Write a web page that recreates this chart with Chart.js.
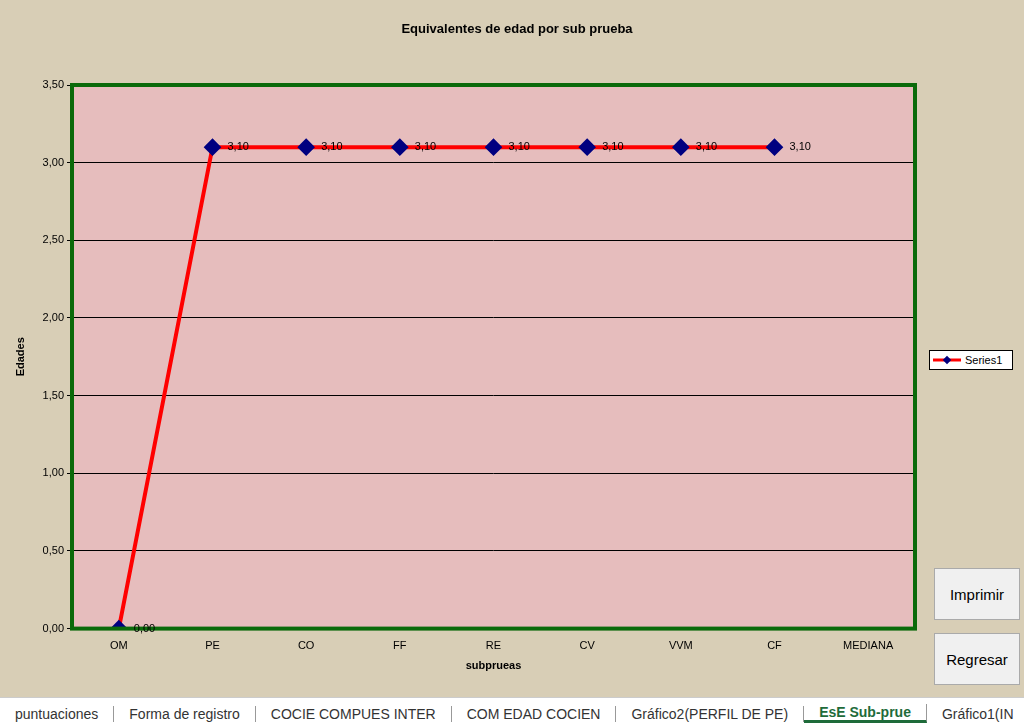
<!DOCTYPE html>
<html><head><meta charset="utf-8">
<script src="https://cdn.jsdelivr.net/npm/chart.js@4"></script>
<style>
body{margin:0;width:1024px;height:728px;background:#d8ceb6;font-family:Arial,"Liberation Sans",sans-serif;position:relative;overflow:hidden}
#wrap{position:absolute;left:0;top:0;width:1020px;height:695px}
#legend{position:absolute;left:929px;top:350px;width:84px;height:20px;background:#fff;border:1px solid #000;font-size:11px;display:flex;align-items:center;gap:4px;box-sizing:border-box;padding-left:3px}
.btn{position:absolute;left:934px;width:84px;height:50px;background:#f0f0f0;border:1px solid #aaa;font-size:15px;display:flex;align-items:center;justify-content:center}
#tabs{position:absolute;left:0;top:697px;width:1024px;height:31px;background:#fff;border-top:1px solid #ccc;font-size:14px;color:#333;display:flex;align-items:center;white-space:nowrap}
#tabs span{padding:0 15px;border-right:1px solid #999}
#tabs .act{color:#1e6b3a;font-weight:bold;border-bottom:3px solid #1e6b3a}
</style></head><body>
<div id="wrap"><canvas id="c" width="1020" height="695"></canvas></div>
<div id="legend"><svg width="28" height="10"><line x1="0" y1="5" x2="28" y2="5" stroke="red" stroke-width="3"/><rect x="11" y="2" width="6" height="6" fill="#000080" transform="rotate(45 14 5)"/></svg>Series1</div>
<div class="btn" style="top:568px">Imprimir</div>
<div class="btn" style="top:633px">Regresar</div>
<div id="tabs"><span>puntuaciones</span><span>Forma de registro</span><span>COCIE COMPUES INTER</span><span>COM EDAD COCIEN</span><span>Gráfico2(PERFIL DE PE)</span><span class="act">EsE Sub-prue</span><span>Gráfico1(IN</span></div>
<script>
const categories = ['OM','PE','CO','FF','RE','CV','VVM','CF','MEDIANA']
const values = [0, 3.1, 3.1, 3.1, 3.1, 3.1, 3.1, 3.1, null]
const chartTitle = 'Equivalentes de edad por sub prueba'
const fmt = v => v.toFixed(2).replace('.', ',')

const bgPlugin = {
	id: 'bg',
	beforeDraw(chart) {
		const { ctx, chartArea: a } = chart
		ctx.save()
		ctx.fillStyle = '#d8ceb6'
		ctx.fillRect(0, 0, chart.width, chart.height)
		ctx.fillStyle = '#e6bdbd'
		ctx.fillRect(a.left, a.top, a.right - a.left, a.bottom - a.top)
		ctx.font = 'bold 13px Arial'
		ctx.fillStyle = '#000'
		ctx.textAlign = 'center'
		ctx.textBaseline = 'middle'
		ctx.fillText(chartTitle, 517, 29)
		ctx.restore()
	},
	afterDatasetsDraw(chart) {
		const { ctx, chartArea: a } = chart
		ctx.save()
		ctx.strokeStyle = '#0a6a0a'
		ctx.lineWidth = 4
		ctx.strokeRect(a.left, a.top, a.right - a.left, a.bottom - a.top)
		ctx.font = '11px Arial'
		ctx.fillStyle = '#000'
		ctx.textBaseline = 'middle'
		chart.getDatasetMeta(0).data.forEach((p, i) => {
			if (values[i] == null) return
			ctx.fillText(fmt(values[i]), p.x + 15, p.y)
		})
		ctx.restore()
	}
}

new Chart(document.getElementById('c'), {
	type: 'line',
	data: {
		labels: categories,
		datasets: [{
			label: 'Series1',
			data: values,
			borderColor: '#ff0000',
			borderWidth: 4,
			pointStyle: 'rectRot',
			pointRadius: 6,
			pointBackgroundColor: '#000080',
			pointBorderColor: '#000080',
			tension: 0
		}]
	},
	options: {
		responsive: false,
		animation: false,
		layout: { padding: { left: 10, right: 105, top: 85, bottom: 18 } },
		plugins: {
			legend: { display: false },
			tooltip: { enabled: false },
			title: { display: false }
		},
		scales: {
			x: {
				offset: true,
				grid: { display: false },
				ticks: { color: '#000', font: { size: 11 } },
				title: { display: true, text: 'subprueas', color: '#000', font: { size: 11, weight: 'bold' } }
			},
			y: {
				min: 0, max: 3.5,
				afterFit(s) { s.width = 62 },
				grid: { color: '#000', drawTicks: true, tickLength: 5 },
				border: { display: false },
				ticks: { stepSize: 0.5, color: '#000', font: { size: 11 }, callback: v => fmt(v) },
				title: { display: true, text: 'Edades', color: '#000', font: { size: 11, weight: 'bold' } }
			}
		}
	},
	plugins: [bgPlugin]
})
</script>
</body></html>
